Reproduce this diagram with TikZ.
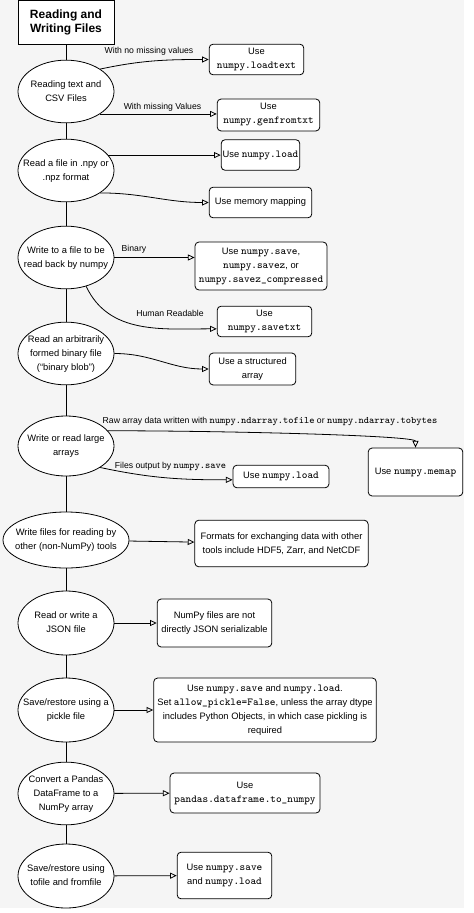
\documentclass[tikz,border=0pt]{standalone}
\usepackage{fontspec}
\setmainfont{Liberation Sans}
\setmonofont{Latin Modern Mono}[Scale=1.14]
\usetikzlibrary{shapes.geometric,arrows.meta}
% текст внутри эллипса не растягивает фигуру
\newcommand{\etext}[1]{\makebox[0pt]{\begin{tabular}{@{}c@{}}#1\end{tabular}}}

\begin{document}
\begin{tikzpicture}[>={Triangle[open,length=5pt,width=4.5pt]}, x=0.75pt, y=-0.75pt, line width=0.6pt,
	task/.style={ellipse, draw, fill=white, inner sep=0pt, minimum width=72pt, minimum height=47pt, font=\fontsize{7}{10.5}\selectfont},
	answer/.style={draw, fill=white, rounded corners=3pt, inner sep=1pt, align=center, font=\fontsize{7}{10.5}\selectfont},
	note/.style={inner sep=0pt, font=\fontsize{6.5}{8}\selectfont}]
		% Фон
		\fill[black!4] (0,0) rectangle (464,908);
		\useasboundingbox (0,0) rectangle (474,913);
		
		% Заголовок
		\node[draw, fill=white, minimum width=72pt, minimum height=33pt, align=center,
		font=\bfseries\fontsize{9}{10.5}\selectfont] (title) at (66,22) {Reading and\\Writing Files};
		
		% Вопросы (левый столбец)
		\node[task] (e1) at (66,91.5) {\etext{Reading text and\\CSV Files}};
		\node[task] (e2) at (66,170.5) {\etext{Read a file in .npy or\\.npz format}};
		\node[task] (e3) at (66,257.5) {\etext{Write to a file to be\\read back by numpy}};
		\node[task] (e4) at (66,353.5) {\etext{Read an arbitrarily\\formed binary file\\(“binary blob”)}};
		\node[task, minimum height=45pt] (e5) at (66,446) {\etext{Write or read large\\arrays}};
		\node[task, minimum width=94.5pt, minimum height=42pt] (e6) at (66,540) {\etext{Write files for reading by\\other (non-NumPy) tools}};
		\node[task, minimum height=48pt] (e7) at (66,623) {\etext{Read or write a\\JSON file}};
		\node[task, minimum height=48pt] (e8) at (66,710) {\etext{Save/restore using a\\pickle file}};
		\node[task] (e9) at (66,793.5) {\etext{Convert a Pandas\\DataFrame to a\\NumPy array}};
		\node[task, minimum height=48pt] (e10) at (66,876) {\etext{Save/restore using\\tofile and fromfile}};
		
		\foreach \a/\b in {title/e1,e1/e2,e2/e3,e3/e4,e4/e5,e5/e6,e6/e7,e7/e8,e8/e9,e9/e10}
		\draw (\a) -- (\b);
		
		% Ответы
		\node[answer, minimum width=71pt, minimum height=23pt] (A1) at (256.5,59.5) {Use\\\texttt{numpy.loadtext}};
		\node[answer, minimum width=77pt, minimum height=24pt] (A2) at (268.5,115) {Use\\\texttt{numpy.genfromtxt}};
		\node[answer, minimum width=59pt, minimum height=23pt] (B1) at (260.5,155) {Use \texttt{numpy.load}};
		\node[answer, minimum width=77pt, minimum height=23pt] (B2) at (260.5,202.5) {Use memory mapping};
		\node[answer, minimum width=99pt, minimum height=36pt] (C1) at (261,266) {Use \texttt{numpy.save},\\\texttt{numpy.savez}, or\\\texttt{numpy.savez\_compressed}};
		\node[answer, minimum width=71pt, minimum height=23pt] (C2) at (264.5,321.5) {Use\\\texttt{numpy.savetxt}};
		\node[answer, minimum width=65pt, minimum height=24pt] (D) at (252.5,369) {Use a structured\\array};
		\node[answer, minimum width=72pt, minimum height=17pt] (E1) at (281,476.5) {Use \texttt{numpy.load}};
		\node[answer, minimum width=71pt, minimum height=36pt] (E2) at (415.5,472) {Use \texttt{numpy.memap}};
		\node[answer, minimum width=130pt, minimum height=35pt] (F) at (281.5,543.5) {Formats for exchanging data with other\\tools include HDF5, Zarr, and NetCDF};
		\node[answer, minimum width=86pt, minimum height=36pt] (G) at (214.5,623) {NumPy files are not\\directly JSON serializable};
		\node[answer, minimum width=167pt, minimum height=48pt] (H) at (265,710) {Use \texttt{numpy.save} and \texttt{numpy.load}.\\Set \texttt{allow\_pickle=False}, unless the array dtype\\includes Python Objects, in which case pickling is\\required};
		\node[answer, minimum width=112.5pt, minimum height=30pt] (I) at (245,793) {Use\\\texttt{pandas.dataframe.to\_numpy}};
		\node[answer, minimum width=71pt, minimum height=35pt] (J) at (224.5,875.5) {Use \texttt{numpy.save}\\and \texttt{numpy.load}};
		
		% Стрелки
		\draw[->] (e1.north east) to[out=12, in=180] (A1.west);
		\draw[->] (e1.south east) -- (e1.south east -| A2.west);
		\draw[->] (e2.20) -- (e2.20 -| B1.west);
		\draw[->] (e2.south east) to[out=0, in=180] (B2.west);
		\draw[->] (e3.east) -- (e3.east -| C1.west);
		\draw[->] (e3.-55) to[out=-65, in=180] ([yshift=-5.5pt]C2.west);
		\draw[->] (e4.east) to[out=0, in=180] (D.west);
		\draw[->] (e5.20) to[out=0, in=90, in looseness=0.1] (E2.north);
		\draw[->] (e5.south east) to[out=-12, in=180] ([yshift=-2.5pt]E1.west);
		\draw[->] (e6) -- (F);
		\draw[->] (e7) -- (G);
		\draw[->] (e8) -- (H);
		\draw[->] (e9) -- (I);
		\draw[->] (e10) -- (J);
		
		% Подписи
		\node[note] (l1) at (149,51) {With no missing values};
		\node[note] (l2) at (162.5,107) {With missing Values};
		\node[note] (l3) at (134,249) {Binary};
		\node[note] (l4) at (170,313) {Human Readable};
		\node[note] (l5) at (270,421) {Raw array data written with \texttt{numpy.ndarray.tofile} or \texttt{numpy.ndarray.tobytes}};
		\node[note] (l6) at (170.5,466) {Files output by \texttt{numpy.save}};
		
\end{tikzpicture}
\end{document}
